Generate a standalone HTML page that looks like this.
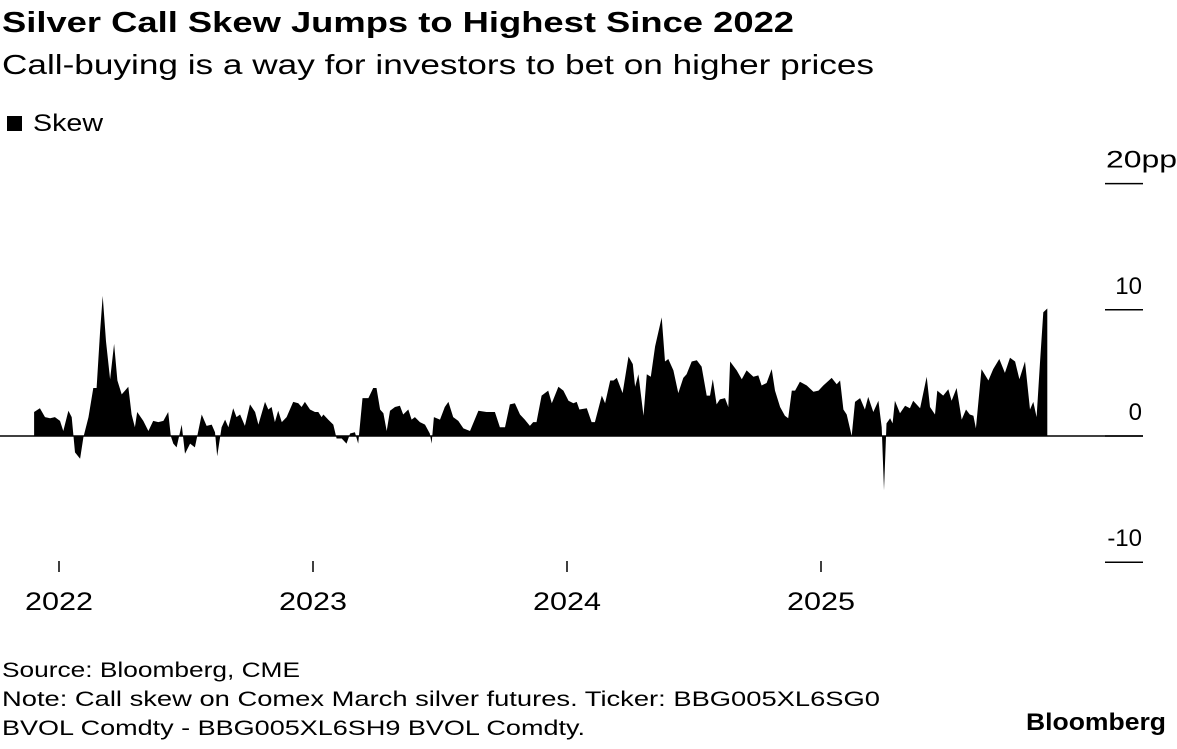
<!DOCTYPE html>
<html><head><meta charset="utf-8"><style>
body{margin:0;background:#fff;font-family:"Liberation Sans",sans-serif;}
svg text{font-family:"Liberation Sans",sans-serif;fill:#000;}
</style></head><body>
<svg id="chart" width="1177" height="744" viewBox="0 0 1177 744" xmlns="http://www.w3.org/2000/svg">
<text x="2" y="32" font-size="29" font-weight="bold" textLength="792" lengthAdjust="spacingAndGlyphs">Silver Call Skew Jumps to Highest Since 2022</text>
<text x="2" y="74" font-size="28" textLength="872" lengthAdjust="spacingAndGlyphs">Call-buying is a way for investors to bet on higher prices</text>
<rect x="7" y="116" width="15" height="15" fill="#000"/>
<text x="33" y="131" font-size="24" textLength="70" lengthAdjust="spacingAndGlyphs">Skew</text>
<g id="yaxis"></g>
<g id="xaxis"></g>
<path id="area" fill="#000"/>
<line id="zero" stroke="#000" stroke-width="1.5"/>
<text x="2" y="677" font-size="21" textLength="298" lengthAdjust="spacingAndGlyphs">Source: Bloomberg, CME</text>
<text x="2" y="706" font-size="21" textLength="878" lengthAdjust="spacingAndGlyphs">Note: Call skew on Comex March silver futures. Ticker: BBG005XL6SG0</text>
<text x="2" y="735" font-size="21" textLength="583" lengthAdjust="spacingAndGlyphs">BVOL Comdty - BBG005XL6SH9 BVOL Comdty.</text>
<text x="1026" y="730" font-size="24" font-weight="bold" textLength="140" lengthAdjust="spacingAndGlyphs">Bloomberg</text>
</svg>
<script>
const dates=[2021.902,2021.925,2021.945,2021.965,2021.984,2022.004,2022.017,2022.037,2022.050,2022.063,2022.083,2022.096,2022.116,2022.135,2022.148,2022.162,2022.172,2022.185,2022.201,2022.217,2022.230,2022.247,2022.260,2022.273,2022.286,2022.299,2022.308,2022.332,2022.352,2022.371,2022.391,2022.411,2022.430,2022.440,2022.450,2022.463,2022.483,2022.496,2022.516,2022.535,2022.562,2022.581,2022.601,2022.614,2022.623,2022.640,2022.654,2022.667,2022.686,2022.699,2022.713,2022.732,2022.752,2022.772,2022.785,2022.811,2022.824,2022.837,2022.850,2022.863,2022.877,2022.896,2022.922,2022.942,2022.955,2022.968,2022.988,2023.008,2023.021,2023.034,2023.041,2023.060,2023.080,2023.093,2023.113,2023.132,2023.146,2023.165,2023.178,2023.195,2023.218,2023.237,2023.250,2023.264,2023.277,2023.290,2023.303,2023.323,2023.342,2023.355,2023.375,2023.388,2023.401,2023.421,2023.441,2023.460,2023.467,2023.476,2023.500,2023.519,2023.533,2023.552,2023.572,2023.592,2023.618,2023.651,2023.683,2023.716,2023.736,2023.756,2023.775,2023.795,2023.815,2023.834,2023.854,2023.867,2023.880,2023.900,2023.926,2023.940,2023.966,2023.986,2024.006,2024.025,2024.038,2024.049,2024.078,2024.097,2024.110,2024.137,2024.150,2024.170,2024.183,2024.196,2024.219,2024.242,2024.259,2024.268,2024.281,2024.301,2024.314,2024.330,2024.347,2024.373,2024.386,2024.399,2024.419,2024.438,2024.458,2024.471,2024.491,2024.511,2024.530,2024.550,2024.563,2024.574,2024.589,2024.602,2024.622,2024.635,2024.642,2024.668,2024.688,2024.707,2024.734,2024.753,2024.766,2024.786,2024.806,2024.819,2024.839,2024.858,2024.871,2024.885,2024.898,2024.917,2024.944,2024.970,2024.990,2025.009,2025.042,2025.062,2025.075,2025.088,2025.101,2025.121,2025.134,2025.154,2025.173,2025.186,2025.206,2025.226,2025.239,2025.248,2025.258,2025.272,2025.282,2025.291,2025.311,2025.331,2025.350,2025.363,2025.390,2025.416,2025.429,2025.449,2025.458,2025.481,2025.501,2025.514,2025.534,2025.554,2025.571,2025.586,2025.600,2025.610,2025.632,2025.659,2025.678,2025.702,2025.724,2025.744,2025.764,2025.781,2025.803,2025.823,2025.836,2025.849,2025.862,2025.875,2025.891];
const skew=[1.9,2.2,1.5,1.4,1.5,1.2,0.4,2.0,1.5,-1.3,-1.8,-0.1,1.5,3.8,3.8,8.3,11.1,7.5,4.5,7.3,4.4,3.3,3.6,3.9,1.7,0.7,1.9,1.2,0.4,1.2,1.1,1.2,1.9,0,-0.6,-0.9,0.9,-1.4,-0.6,-0.9,1.7,0.8,0.9,0.3,-1.6,0.7,1.3,0.7,2.2,1.5,1.7,0.8,2.5,1.9,0.9,2.7,2.1,2.3,1.1,2.0,1.1,1.5,2.7,2.6,2.3,2.7,2.1,1.9,1.9,1.5,1.7,1.3,0.9,-0.2,-0.2,-0.6,0.2,0.3,-0.6,3.0,3.0,3.8,3.8,2.1,1.8,0.4,2.0,2.3,2.4,1.7,2.1,1.3,1.5,1.1,0.9,0.2,-0.6,1.5,1.3,2.3,2.7,1.5,1.2,0.6,0.4,2.0,1.9,1.9,0.7,0.7,2.5,2.6,1.7,1.3,0.8,1.1,1.1,3.2,3.6,2.6,3.9,3.6,2.8,2.6,2.7,2.1,2.2,1.1,1.1,3.2,2.6,4.4,4.4,4.6,3.4,6.3,5.7,3.9,4.9,1.6,4.9,4.7,7.1,9.4,5.9,6.1,5.2,3.4,4.6,4.9,5.9,6.0,5.5,3.2,3.2,4.5,2.5,2.9,3.0,2.3,5.9,5.2,4.5,5.2,4.7,4.8,4.0,4.2,5.3,3.6,2.3,1.6,1.4,3.6,3.6,4.3,4.0,3.5,3.6,4.0,4.6,4.1,4.4,2.1,1.7,0,2.7,3.0,2.1,3.1,1.9,2.8,0.7,-4.3,1.0,1.4,1.0,2.8,1.8,2.4,2.2,2.8,2.2,4.7,2.3,1.7,3.6,3.2,3.7,2.8,3.8,1.3,2.1,1.7,1.6,0.6,5.3,4.4,5.3,6.1,5.0,6.2,5.9,4.5,5.9,2.1,2.7,1.5,5.7,9.8,10.1];
const yTicks=[20,10,0,-10];
const yTickLabels=["20pp","10","0","-10"];
const xTicks=[2022,2023,2024,2025];
const xTickLabels=["2022","2023","2024","2025"];
const NS="http://www.w3.org/2000/svg";
const xs=t=>59+(t-2022)*254;
const ys=v=>436-v*12.62;
const svg=document.getElementById('chart');
const ya=document.getElementById('yaxis'),xa=document.getElementById('xaxis');
yTicks.forEach((v,i)=>{
  const l=document.createElementNS(NS,'line');
  
  
  l.setAttribute('x1',1105);l.setAttribute('x2',1143);l.setAttribute('y1',ys(v));l.setAttribute('y2',ys(v));
  l.setAttribute('stroke','#000');l.setAttribute('stroke-width',1.5);ya.appendChild(l);
  const t=document.createElementNS(NS,'text');
  
  
  t.setAttribute('y',ys(v)-16);t.setAttribute('font-size',24);
  if(i===0){t.setAttribute('x',1106);t.setAttribute('textLength',71);t.setAttribute('lengthAdjust','spacingAndGlyphs');}
  else{t.setAttribute('x',1142);t.setAttribute('text-anchor','end');}
  t.textContent=yTickLabels[i];ya.appendChild(t);
});
xTicks.forEach((v,i)=>{
  const l=document.createElementNS(NS,'line');
  
  
  l.setAttribute('x1',xs(v));l.setAttribute('x2',xs(v));l.setAttribute('y1',561);l.setAttribute('y2',572);
  l.setAttribute('stroke','#000');l.setAttribute('stroke-width',1.5);xa.appendChild(l);
  const t=document.createElementNS(NS,'text');
  
  
  t.setAttribute('x',xs(v)-34);t.setAttribute('y',610);t.setAttribute('font-size',25);
  t.setAttribute('textLength',68);t.setAttribute('lengthAdjust','spacingAndGlyphs');
  t.textContent=xTickLabels[i];xa.appendChild(t);
});
let d='M'+xs(dates[0])+','+ys(0);
dates.forEach((t,i)=>{d+=' L'+xs(t).toFixed(1)+','+ys(skew[i]).toFixed(1);});
d+=' L'+xs(dates[dates.length-1]).toFixed(1)+','+ys(0)+' Z';
document.getElementById('area').setAttribute('d',d);
const z=document.getElementById('zero');
z.setAttribute('x1',0);z.setAttribute('x2',1143);z.setAttribute('y1',ys(0));z.setAttribute('y2',ys(0));
</script>
</body></html>
